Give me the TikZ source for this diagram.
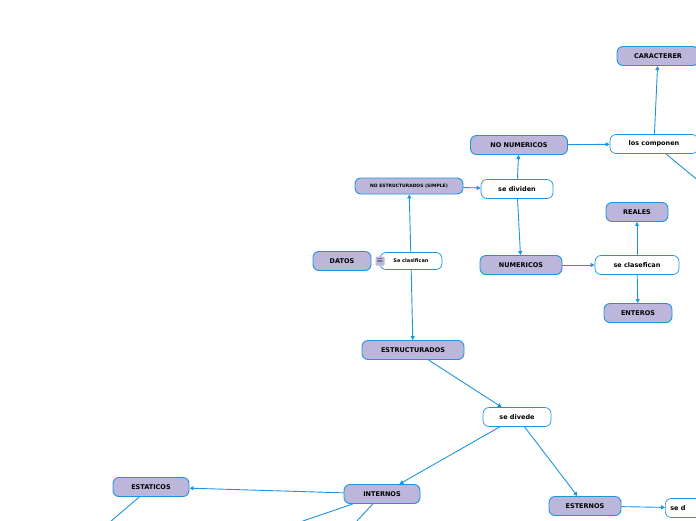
\documentclass[tikz,border=0pt]{standalone}
\usepackage{fontspec}
\setmainfont{DejaVu Sans}
\usetikzlibrary{arrows.meta}
\definecolor{lb}{HTML}{1B95E0}
\definecolor{pf}{HTML}{BCB6DA}
\tikzset{
 topic/.style={draw=lb,line width=0.9pt,fill=pf,rounded corners=6pt,minimum height=19pt,inner sep=1pt,font=\fontsize{6.5}{7}\selectfont\bfseries},
 sub/.style={draw=lb,line width=0.7pt,fill=white,rounded corners=6pt,minimum height=19pt,inner sep=1pt,font=\fontsize{6.5}{7}\selectfont\bfseries},
 con/.style={draw=lb,line width=0.9pt,-{Triangle[length=4pt,width=4pt]}},
 lin/.style={draw=lb,line width=0.9pt}
}
\begin{document}
\begin{tikzpicture}[x=1pt,y=-1pt]
\useasboundingbox (0,0) rectangle (696,520);
\clip (0,0) rectangle (696,520);
\node[topic,minimum width=82pt] (car) at (658,56) {CARACTERER};
\node[sub,minimum width=88pt] (comp) at (654,144) {los componen};
\node[topic,minimum width=97pt] (nonum) at (519,145) {NO NUMERICOS};
\node[topic,minimum width=108pt,minimum height=16pt,font=\fontsize{4.5}{5}\selectfont\bfseries] (noest) at (409,186) {NO ESTRUCTURADOS (SIMPLE)};
\node[sub,minimum width=72pt] (div) at (517,189) {se dividen};
\node[topic,minimum width=62pt] (real) at (637,212) {REALES};
\node[topic,minimum width=58pt] (datos) at (342,261) {DATOS};
\node[sub,minimum width=62pt,minimum height=17pt,font=\fontsize{5}{6}\selectfont\bfseries] (clas) at (411,261) {Se clasifican};
\node[fill=pf,rounded corners=1pt,minimum width=9pt,minimum height=9pt,inner sep=0pt,font=\fontsize{7}{7}\selectfont] (menu) at (380,261) {$\equiv$};
\node[topic,minimum width=82pt] (num) at (521,265) {NUMERICOS};
\node[sub,minimum width=84pt] (clas2) at (637,265) {se clasefican};
\node[topic,minimum width=68pt] (ent) at (638,313) {ENTE\raisebox{-0.6pt}{ROS}};
\node[topic,minimum width=102pt] (estr) at (413,350) {ESTRUCTURADOS};
\node[sub,minimum width=68pt] (dived) at (517,417) {se divede};
\node[topic,minimum width=76pt] (esta) at (151,487) {ESTATICOS};
\node[topic,minimum width=76pt] (int) at (382,494) {INTERNOS};
\node[topic,minimum width=72pt] (ext) at (585,506) {ESTERNOS};
\node[sub,minimum width=70pt,anchor=west,text width=60pt,align=left] (sed) at (665,508) {se d};
\coordinate (o1) at (700,182);
\coordinate (o2) at (110,522);
\coordinate (o3) at (300,522);
\coordinate (o4) at (356,522);
\draw[con] (clas) -- (noest);
\draw[con] (clas) -- (estr);
\draw[con] (noest) -- (div);
\draw[con] (div) -- (nonum);
\draw[con] (div) -- (num);
\draw[con] (nonum) -- (comp);
\draw[con] (comp) -- (car);
\draw[lin] (comp) -- (o1);
\draw[con] (num) -- (clas2);
\draw[con] (clas2) -- (real);
\draw[con] (clas2) -- (ent);
\draw[con] (estr) -- (dived);
\draw[con] (dived) -- (int);
\draw[con] (dived) -- (ext);
\draw[con] (int) -- (esta);
\draw[con] (ext) -- (sed);
\draw[lin] (esta) -- (o2);
\draw[lin] (int) -- (o3);
\draw[lin] (int) -- (o4);
\end{tikzpicture}
\end{document}
